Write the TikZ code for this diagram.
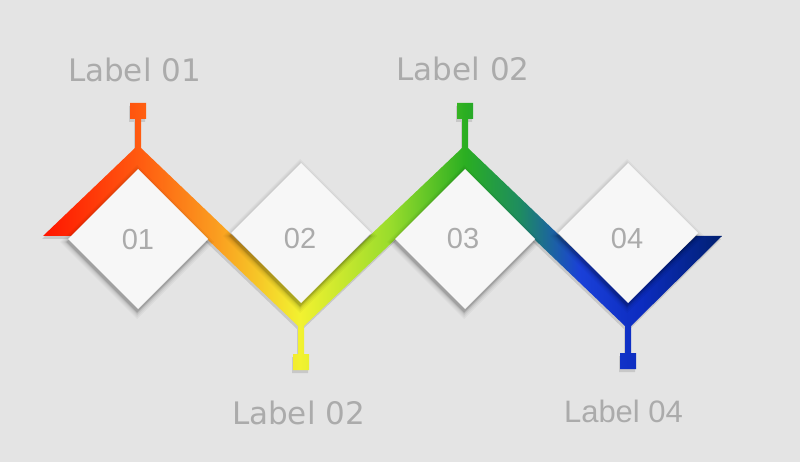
\documentclass[tikz,border=0pt]{standalone}
\usepackage{fontspec}
\usetikzlibrary{shapes.geometric}
\newfontfamily\labfont{DejaVu Sans}
\newfontfamily\arialfont{Liberation Sans}
\definecolor{bg}{HTML}{E4E4E4}
\definecolor{diafill}{HTML}{F7F7F7}
\definecolor{txtgrey}{HTML}{ABABAB}
\definecolor{c0}{HTML}{FF1500}
\definecolor{c1}{HTML}{FF5A10}
\definecolor{c2}{HTML}{FAA020}
\definecolor{c3}{HTML}{F2F230}
\definecolor{c4}{HTML}{98DC2C}
\definecolor{c5}{HTML}{2AAE22}
\definecolor{c6}{HTML}{1E8C60}
\definecolor{c7}{HTML}{1A40D8}
\definecolor{c8}{HTML}{0C2CC0}
\definecolor{c9}{HTML}{002070}
\pgfdeclarehorizontalshading{rainbow}{100bp}{color(0bp)=(c0); color(25bp)=(c0); color(32bp)=(c1); color(38bp)=(c2); color(43.9bp)=(c3); color(50.6bp)=(c4); color(56.1bp)=(c5); color(60.1bp)=(c6); color(64.5bp)=(c7); color(69bp)=(c8); color(75bp)=(c9); color(100bp)=(c9)}
\newcommand\bandpath{(43,236) -- (135,148) -- (135,119) -- (130,119) -- (130,103) -- (146,103) -- (146,119) -- (141,119) -- (141,148) -- (301,301) -- (462,148) -- (462,119) -- (457,119) -- (457,103) -- (473,103) -- (473,119) -- (468,119) -- (468,148) -- (628,301) -- (696,236) -- (722,236) -- (631,326) -- (631,353) -- (636,353) -- (636,369) -- (620,369) -- (620,353) -- (625,353) -- (625,326) -- (465,173) -- (304,326) -- (304,354) -- (309,354) -- (309,370) -- (293,370) -- (293,354) -- (298,354) -- (298,326) -- (138,173) -- (72,236) -- cycle}
\newcommand\diashadow[2]{%
  \foreach \r/\o in {77/0.035,75/0.045,73/0.06,71.5/0.08,70.5/0.10}{%
    \fill[black,opacity=\o] (#1-1,#2+3-\r) -- (#1-1+\r,#2+3) -- (#1-1,#2+3+\r) -- (#1-1-\r,#2+3) -- cycle;
  }%
}
\begin{document}
\begin{tikzpicture}[x=1pt,y=-1pt,
  dia/.style={diamond, aspect=1, minimum width=140pt, minimum height=140pt, inner sep=0pt, outer sep=0pt, fill=diafill},
  numtxt/.style={font=\arialfont\fontsize{29}{29}\selectfont, text=txtgrey, inner sep=0pt},
  labtxt/.style={font=\labfont\fontsize{31}{31}\selectfont, text=txtgrey, inner sep=0pt},
  labtxtb/.style={font=\arialfont\fontsize{31}{31}\selectfont, text=txtgrey, inner sep=0pt}]
\useasboundingbox (0,0) rectangle (800,462);
\fill[bg] (0,0) rectangle (800,462);
% band shadow and band
\begin{scope}[shift={(-1,3)}]
\fill[black,opacity=0.12] \bandpath;
\end{scope}
\shade[shading=rainbow] \bandpath;
% diamond shadows
\diashadow{138}{239}
\diashadow{301}{233}
\diashadow{465}{239}
\diashadow{628}{233}
% diamonds
\node[dia] (d1) at (138,239) {};
\node[dia] (d2) at (301,233) {};
\node[dia] (d3) at (465,239) {};
\node[dia] (d4) at (628,233) {};
% numbers
\node[numtxt] (n1) at (138,239.5) {01};
\node[numtxt] (n2) at (300,238.5) {02};
\node[numtxt] (n3) at (463,239) {03};
\node[numtxt] (n4) at (627,239) {04};
% labels
\node[labtxt] (l1) at (134.5,70) {Label 01};
\node[labtxt] (l2) at (463,69) {Label 02};
\node[labtxt] (l3) at (298.5,412.5) {Label 02};
\node[labtxtb] (l4) at (623.5,411) {Label 04};
\end{tikzpicture}
\end{document}
